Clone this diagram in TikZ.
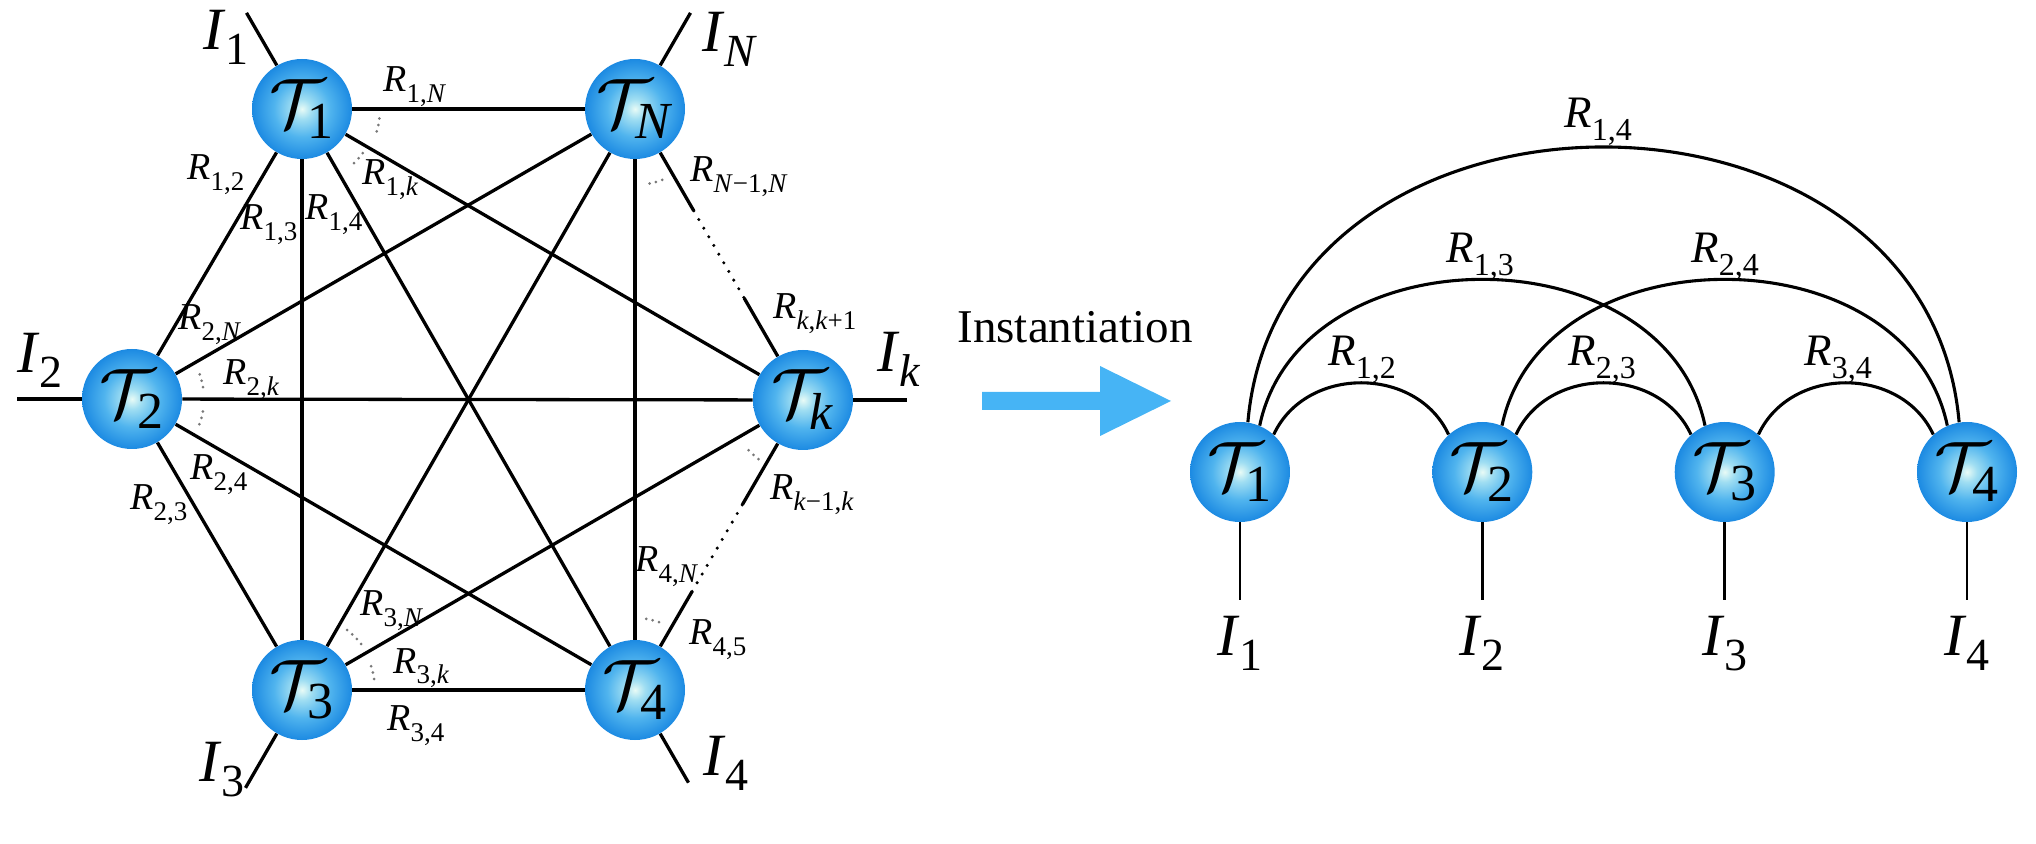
\RequirePackage{fix-cm}
\documentclass[tikz,border=0pt]{standalone}
\usepackage{fontspec}
\setmainfont{Liberation Serif}
\usepackage{graphicx}
\usetikzlibrary{calc}
\definecolor{tbA}{RGB}{232,251,246}
\definecolor{tbB}{RGB}{160,222,242}
\definecolor{tbC}{RGB}{80,180,238}
\definecolor{tbD}{RGB}{28,138,226}
\definecolor{arrowblue}{RGB}{70,180,245}
\definecolor{dotgray}{RGB}{120,120,120}
\pgfdeclareradialshading{tball}{\pgfpointorigin}{color(0bp)=(tbA); color(5bp)=(tbB); color(14bp)=(tbC); color(25bp)=(tbD); color(50bp)=(tbD)}
\newcommand\myRl[1]{{\fontsize{19}{19}\selectfont\textit{R}}\raisebox{-5.5pt}{\fontsize{13.5}{13.5}\selectfont #1}}
\newcommand\myRr[1]{{\fontsize{22.5}{22.5}\selectfont\textit{R}}\raisebox{-6.5pt}{\fontsize{16}{16}\selectfont #1}}
\newcommand\myIl[1]{{\fontsize{30}{30}\selectfont\textit{I}}\raisebox{-7.5pt}{\fontsize{23}{23}\selectfont #1}}
\newcommand\myTl[1]{\fontsize{35}{35}\selectfont$\mathcal{T}_{\hbox{\fontsize{26}{26}\selectfont #1}}$}
\begin{document}
\begin{tikzpicture}[x=0.5pt,y=-0.5pt,
  edge/.style={line width=1.65pt},
  arcedge/.style={line width=1.55pt},
  iline/.style={line width=1.4pt},
  dotedge/.style={line width=1.7pt, line cap=round, dash pattern=on 0pt off 5pt},
  graydots/.style={line width=1.5pt, line cap=round, dash pattern=on 0pt off 3.3pt, draw=dotgray},
  tnode/.style={circle, minimum size=50pt, inner sep=0pt, shade, shading=tball},
  lab/.style={inner sep=0pt, anchor=base west},
  clab/.style={inner sep=0pt, anchor=base}]
\useasboundingbox (0,0) rectangle (2036,844);

% ---------- left: complete graph ----------
\node[tnode] (T1) at (302,109) {\myTl{1}};
\node[tnode] (TN) at (635,109) {\myTl{\textit{N}}};
\node[tnode] (Tk) at (803,400) {\myTl{\textit{k}}};
\node[tnode] (T4) at (635,690) {\myTl{4}};
\node[tnode] (T3) at (302,690) {\myTl{3}};
\node[tnode] (T2) at (132,399) {\myTl{2}};

\draw[edge] (T1) -- (TN);
\draw[edge] (T1) -- (T2);
\draw[edge] (T1) -- (T3);
\draw[edge] (T1) -- (T4);
\draw[edge] (T1) -- (Tk);
\draw[edge] (TN) -- (T2);
\draw[edge] (TN) -- (T3);
\draw[edge] (TN) -- (T4);
\draw[edge] (T2) -- (Tk);
\draw[edge] (T2) -- (T3);
\draw[edge] (T2) -- (T4);
\draw[edge] (T3) -- (T4);
\draw[edge] (T3) -- (Tk);

\coordinate (pa) at ($(TN)!0.35!(Tk)$);
\coordinate (pb) at ($(TN)!0.65!(Tk)$);
\draw[edge] (TN) -- (pa);
\draw[dotedge] (pa) -- (pb);
\draw[edge] (pb) -- (Tk);
\coordinate (qa) at ($(T4)!0.34!(Tk)$);
\coordinate (qb) at ($(T4)!0.64!(Tk)$);
\draw[edge] (T4) -- (qa);
\draw[dotedge] (qa) -- (qb);
\draw[edge] (qb) -- (Tk);

\coordinate (e1) at ($(T1)+(-120:111)$);
\coordinate (eN) at ($(TN)+(-60:111)$);
\coordinate (e2) at ($(T2)+(180:115)$);
\coordinate (ek) at ($(Tk)+(0:104)$);
\coordinate (e3) at ($(T3)+(120:113)$);
\coordinate (e4) at ($(T4)+(60:107)$);
\draw[edge] (T1) -- (e1);
\draw[edge] (TN) -- (eN);
\draw[edge] (T2) -- (e2);
\draw[edge] (Tk) -- (ek);
\draw[edge] (T3) -- (e3);
\draw[edge] (T4) -- (e4);

\draw[graydots] ($(T1)+(7:78)$) arc[start angle=7, end angle=19, radius=78];
\draw[graydots] ($(T1)+(36:75)$) arc[start angle=36, end angle=49, radius=75];
\draw[graydots] ($(TN)+(69:76)$) arc[start angle=69, end angle=81, radius=76];
\draw[graydots] ($(T2)+(-20:72)$) arc[start angle=-20, end angle=-6, radius=72];
\draw[graydots] ($(T2)+(10:72)$) arc[start angle=10, end angle=25, radius=72];
\draw[graydots] ($(T3)+(-53:75)$) arc[start angle=-53, end angle=-37, radius=75];
\draw[graydots] ($(T3)+(-19:73)$) arc[start angle=-19, end angle=-5, radius=73];
\draw[graydots] ($(T4)+(-81:72)$) arc[start angle=-81, end angle=-66, radius=72];
\draw[graydots] ($(Tk)+(127:74)$) arc[start angle=127, end angle=138, radius=74];

\node[lab] (l1N) at (383,92) {\myRl{1,\textit{N}}};
\node[lab] (l12) at (187,180) {\myRl{1,2}};
\node[lab] (l13) at (240,230) {\myRl{1,3}};
\node[lab] (l14) at (305,220) {\myRl{1,4}};
\node[lab] (l1k) at (362,185) {\myRl{1,\textit{k}}};
\node[lab] (lNN) at (690,182) {\myRl{\textit{N}−1,\textit{N}}};
\node[lab] (lkk) at (773,319) {\myRl{\textit{k},\textit{k}+1}};
\node[lab] (l2N) at (178,330) {\myRl{2,\textit{N}}};
\node[lab] (l2k) at (223,385) {\myRl{2,\textit{k}}};
\node[lab] (l24) at (190,480) {\myRl{2,4}};
\node[lab] (l23) at (130,510) {\myRl{2,3}};
\node[lab] (l3N) at (360,616) {\myRl{3,\textit{N}}};
\node[lab] (l3k) at (393,673) {\myRl{3,\textit{k}}};
\node[lab] (l34) at (387,730) {\myRl{3,4}};
\node[lab] (lk1) at (770,500) {\myRl{\textit{k}−1,\textit{k}}};
\node[lab] (l4N) at (635,572) {\myRl{4,\textit{N}}};
\node[lab] (l45) at (689,645) {\myRl{4,5}};

\node[lab] (i1) at (203,50) {\myIl{1}};
\node[lab] (iN) at (702,52) {\myIl{\textit{N}}};
\node[lab] (i2) at (17,373) {\myIl{2}};
\node[lab] (ik) at (877,372) {\myIl{\textit{k}}};
\node[lab] (i3) at (199,781) {\myIl{3}};
\node[lab] (i4) at (703,775) {\myIl{4}};

% ---------- middle: arrow ----------
\node[clab] (inst) at (1075,343) {\fontsize{23.5}{23.5}\selectfont Instantiation};
\fill[arrowblue] (982,392) -- (1100,392) -- (1100,366) -- (1171,401) -- (1100,436) -- (1100,410) -- (982,410) -- cycle;

% ---------- right: chain ----------
\node[tnode] (U1) at (1240,472) {\myTl{1}};
\node[tnode] (U2) at (1482.3,472) {\myTl{2}};
\node[tnode] (U3) at (1724.7,472) {\myTl{3}};
\node[tnode] (U4) at (1967,472) {\myTl{4}};

\draw[arcedge] (U1.48) .. controls ($(U1.48)+(32,-69)$) and ($(U2.132)+(-32,-69)$) .. (U2.132);
\draw[arcedge] (U2.48) .. controls ($(U2.48)+(32,-69)$) and ($(U3.132)+(-32,-69)$) .. (U3.132);
\draw[arcedge] (U3.48) .. controls ($(U3.48)+(32,-69)$) and ($(U4.132)+(-32,-69)$) .. (U4.132);
\draw[arcedge] (U1.67) .. controls ($(U1.67)+(41,-195)$) and ($(U3.113)+(-41,-195)$) .. (U3.113);
\draw[arcedge] (U2.67) .. controls ($(U2.67)+(41,-195)$) and ($(U4.113)+(-41,-195)$) .. (U4.113);
\draw[arcedge] (U1.81) .. controls ($(U1.81)+(32,-367)$) and ($(U4.99)+(-32,-367)$) .. (U4.99);

\node[clab] (r12) at (1362,366) {\myRr{1,2}};
\node[clab] (r23) at (1602,366) {\myRr{2,3}};
\node[clab] (r34) at (1838,366) {\myRr{3,4}};
\node[clab] (r13) at (1480,263) {\myRr{1,3}};
\node[clab] (r24) at (1725,263) {\myRr{2,4}};
\node[clab] (r14) at (1598,128) {\myRr{1,4}};

\coordinate (f1) at (1240,600);
\coordinate (f2) at (1482.3,600);
\coordinate (f3) at (1724.7,600);
\coordinate (f4) at (1967,600);
\draw[iline] (U1) -- (f1);
\draw[iline] (U2) -- (f2);
\draw[iline] (U3) -- (f3);
\draw[iline] (U4) -- (f4);
\node[clab] (j1) at (1240,655) {\myIl{1}};
\node[clab] (j2) at (1482.3,655) {\myIl{2}};
\node[clab] (j3) at (1724.7,655) {\myIl{3}};
\node[clab] (j4) at (1967,655) {\myIl{4}};
\end{tikzpicture}
\end{document}
